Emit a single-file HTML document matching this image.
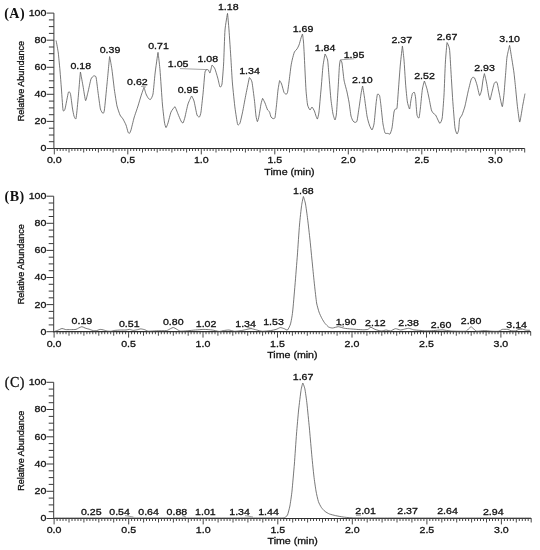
<!DOCTYPE html>
<html lang="en"><head><meta charset="utf-8"><title>Chromatograms</title>
<style>html,body{margin:0;padding:0;background:#fff}svg{display:block}</style></head>
<body>
<svg width="540" height="550" viewBox="0 0 540 550">
<rect width="540" height="550" fill="#fff"/>
<g font-family="'Liberation Sans', sans-serif" fill="#111" stroke="#111" stroke-width="0.3">
<path d="M53.4 148.5H524.7" fill="none" stroke="#2e2e2e" stroke-width="1.2"/>
<path d="M53.9 13.1V149.0M53.9 148.5h-7.2M53.9 141.7h-5.0M53.9 135.0h-5.0M53.9 128.2h-5.0M53.9 121.4h-7.2M53.9 114.7h-5.0M53.9 107.9h-5.0M53.9 101.1h-5.0M53.9 94.3h-7.2M53.9 87.6h-5.0M53.9 80.8h-5.0M53.9 74.0h-5.0M53.9 67.3h-7.2M53.9 60.5h-5.0M53.9 53.7h-5.0M53.9 47.0h-5.0M53.9 40.2h-7.2M53.9 33.4h-5.0M53.9 26.6h-5.0M53.9 19.9h-5.0M53.9 13.1h-7.2" fill="none" stroke="#3a3a3a" stroke-width="1"/>
<path d="M54.3 148.5v5.9M57.2 148.5v2.5M60.2 148.5v2.5M63.1 148.5v2.5M66.1 148.5v2.5M69.0 148.5v4.0M71.9 148.5v2.5M74.9 148.5v2.5M77.8 148.5v2.5M80.8 148.5v2.5M83.7 148.5v4.0M86.6 148.5v2.5M89.6 148.5v2.5M92.5 148.5v2.5M95.5 148.5v2.5M98.4 148.5v4.0M101.3 148.5v2.5M104.3 148.5v2.5M107.2 148.5v2.5M110.2 148.5v2.5M113.1 148.5v4.0M116.0 148.5v2.5M119.0 148.5v2.5M121.9 148.5v2.5M124.9 148.5v2.5M127.8 148.5v5.9M130.7 148.5v2.5M133.7 148.5v2.5M136.6 148.5v2.5M139.6 148.5v2.5M142.5 148.5v4.0M145.4 148.5v2.5M148.4 148.5v2.5M151.3 148.5v2.5M154.3 148.5v2.5M157.2 148.5v4.0M160.1 148.5v2.5M163.1 148.5v2.5M166.0 148.5v2.5M169.0 148.5v2.5M171.9 148.5v4.0M174.8 148.5v2.5M177.8 148.5v2.5M180.7 148.5v2.5M183.7 148.5v2.5M186.6 148.5v4.0M189.5 148.5v2.5M192.5 148.5v2.5M195.4 148.5v2.5M198.4 148.5v2.5M201.3 148.5v5.9M204.2 148.5v2.5M207.2 148.5v2.5M210.1 148.5v2.5M213.1 148.5v2.5M216.0 148.5v4.0M218.9 148.5v2.5M221.9 148.5v2.5M224.8 148.5v2.5M227.8 148.5v2.5M230.7 148.5v4.0M233.6 148.5v2.5M236.6 148.5v2.5M239.5 148.5v2.5M242.5 148.5v2.5M245.4 148.5v4.0M248.3 148.5v2.5M251.3 148.5v2.5M254.2 148.5v2.5M257.2 148.5v2.5M260.1 148.5v4.0M263.0 148.5v2.5M266.0 148.5v2.5M268.9 148.5v2.5M271.9 148.5v2.5M274.8 148.5v5.9M277.7 148.5v2.5M280.7 148.5v2.5M283.6 148.5v2.5M286.6 148.5v2.5M289.5 148.5v4.0M292.4 148.5v2.5M295.4 148.5v2.5M298.3 148.5v2.5M301.3 148.5v2.5M304.2 148.5v4.0M307.1 148.5v2.5M310.1 148.5v2.5M313.0 148.5v2.5M316.0 148.5v2.5M318.9 148.5v4.0M321.8 148.5v2.5M324.8 148.5v2.5M327.7 148.5v2.5M330.7 148.5v2.5M333.6 148.5v4.0M336.5 148.5v2.5M339.5 148.5v2.5M342.4 148.5v2.5M345.4 148.5v2.5M348.3 148.5v5.9M351.2 148.5v2.5M354.2 148.5v2.5M357.1 148.5v2.5M360.1 148.5v2.5M363.0 148.5v4.0M365.9 148.5v2.5M368.9 148.5v2.5M371.8 148.5v2.5M374.8 148.5v2.5M377.7 148.5v4.0M380.6 148.5v2.5M383.6 148.5v2.5M386.5 148.5v2.5M389.5 148.5v2.5M392.4 148.5v4.0M395.3 148.5v2.5M398.3 148.5v2.5M401.2 148.5v2.5M404.2 148.5v2.5M407.1 148.5v4.0M410.0 148.5v2.5M413.0 148.5v2.5M415.9 148.5v2.5M418.9 148.5v2.5M421.8 148.5v5.9M424.7 148.5v2.5M427.7 148.5v2.5M430.6 148.5v2.5M433.6 148.5v2.5M436.5 148.5v4.0M439.4 148.5v2.5M442.4 148.5v2.5M445.3 148.5v2.5M448.3 148.5v2.5M451.2 148.5v4.0M454.1 148.5v2.5M457.1 148.5v2.5M460.0 148.5v2.5M463.0 148.5v2.5M465.9 148.5v4.0M468.8 148.5v2.5M471.8 148.5v2.5M474.7 148.5v2.5M477.7 148.5v2.5M480.6 148.5v4.0M483.5 148.5v2.5M486.5 148.5v2.5M489.4 148.5v2.5M492.4 148.5v2.5M495.3 148.5v5.9M498.2 148.5v2.5M501.2 148.5v2.5M504.1 148.5v2.5M507.1 148.5v2.5M510.0 148.5v4.0M512.9 148.5v2.5M515.9 148.5v2.5M518.8 148.5v2.5M521.8 148.5v2.5M524.7 148.5v4.0" fill="none" stroke="#333" stroke-width="0.9"/>
<text transform="translate(46.4 151.4) scale(1.130 1)" text-anchor="end" font-size="9.4">0</text>
<text transform="translate(46.4 124.3) scale(1.130 1)" text-anchor="end" font-size="9.4">20</text>
<text transform="translate(46.4 97.2) scale(1.130 1)" text-anchor="end" font-size="9.4">40</text>
<text transform="translate(46.4 70.2) scale(1.130 1)" text-anchor="end" font-size="9.4">60</text>
<text transform="translate(46.4 43.1) scale(1.130 1)" text-anchor="end" font-size="9.4">80</text>
<text transform="translate(46.4 16.0) scale(1.130 1)" text-anchor="end" font-size="9.4">100</text>
<text transform="translate(54.3 163.4) scale(1.130 1)" text-anchor="middle" font-size="9.4">0.0</text>
<text transform="translate(127.8 163.4) scale(1.130 1)" text-anchor="middle" font-size="9.4">0.5</text>
<text transform="translate(201.3 163.4) scale(1.130 1)" text-anchor="middle" font-size="9.4">1.0</text>
<text transform="translate(274.8 163.4) scale(1.130 1)" text-anchor="middle" font-size="9.4">1.5</text>
<text transform="translate(348.3 163.4) scale(1.130 1)" text-anchor="middle" font-size="9.4">2.0</text>
<text transform="translate(421.8 163.4) scale(1.130 1)" text-anchor="middle" font-size="9.4">2.5</text>
<text transform="translate(495.3 163.4) scale(1.130 1)" text-anchor="middle" font-size="9.4">3.0</text>
<text transform="translate(289.5 174.8) scale(1.130 1)" text-anchor="middle" font-size="9.4">Time (min)</text>
<text transform="translate(24.2 81.1) rotate(-90) scale(0.93 1)" text-anchor="middle" font-size="9.8" letter-spacing="-0.05">Relative Abundance</text>
<path d="M56.1 40.5C56.3 41.6 58.0 50.5 58.3 53.0C58.6 55.5 59.5 65.5 59.8 68.5C60.1 71.5 60.9 82.3 61.2 86.0C61.5 89.7 62.7 107.9 63.0 110.0C63.3 112.1 64.5 110.6 65.0 109.0C65.5 107.4 67.9 93.8 68.4 92.4C68.9 91.0 70.0 92.2 70.4 93.6C70.8 95.0 72.1 106.0 72.4 108.0C72.7 110.0 73.7 115.0 74.0 116.0C74.3 117.0 75.6 120.0 76.0 118.6C76.4 117.2 77.6 104.2 78.0 100.0C78.4 95.8 80.3 72.4 80.4 72.0C80.5 71.6 82.5 83.4 83.0 86.0C83.5 88.6 85.1 100.1 85.6 100.6C86.0 101.1 87.5 93.9 88.0 92.0C88.5 90.1 90.5 80.4 91.0 79.0C91.5 77.6 93.1 76.2 93.6 76.0C94.0 75.8 95.6 75.6 96.0 77.0C96.4 78.4 97.6 89.1 98.0 92.0C98.4 94.9 100.0 107.1 100.4 109.0C100.9 110.9 102.6 113.3 103.0 113.4C103.4 113.5 104.0 112.6 104.4 110.0C104.8 107.4 106.5 88.8 107.0 84.0C107.5 79.2 109.5 57.0 109.6 56.6C109.7 56.2 111.6 67.0 112.0 70.0C112.4 73.0 114.0 86.8 114.4 90.0C114.9 93.2 116.5 103.8 117.0 106.0C117.5 108.2 119.5 113.8 120.0 115.0C120.5 116.2 122.5 118.1 123.0 119.0C123.5 119.9 125.5 123.8 126.0 125.0C126.5 126.2 127.7 131.2 128.0 132.0C128.3 132.8 129.1 133.6 129.4 133.4C129.7 133.2 130.6 131.4 131.0 130.0C131.4 128.6 133.4 120.2 134.0 118.0C134.6 115.8 137.4 108.0 138.0 106.0C138.6 104.0 140.5 97.7 141.0 96.0C141.5 94.3 143.9 87.5 144.0 87.4C144.1 87.3 145.6 93.0 146.0 94.0C146.4 95.0 148.0 97.9 148.4 98.4C148.8 98.9 150.2 99.8 150.6 99.4C151.0 99.0 152.6 96.3 153.0 94.0C153.4 91.7 154.6 77.7 155.0 74.0C155.4 70.3 157.9 52.5 158.0 52.4C158.1 52.3 159.6 65.4 160.0 70.0C160.4 74.6 162.0 99.3 162.4 104.0C162.8 108.7 164.1 119.9 164.4 122.0C164.7 124.1 165.7 127.5 166.0 127.6C166.3 127.7 167.6 124.4 168.0 123.0C168.4 121.6 170.4 113.5 171.0 112.0C171.6 110.5 174.8 106.5 175.0 106.6C175.2 106.7 177.5 112.7 178.0 114.0C178.5 115.3 180.6 120.2 181.0 121.0C181.4 121.8 182.6 123.4 183.0 123.0C183.4 122.6 184.6 118.7 185.0 117.0C185.4 115.3 187.4 105.9 188.0 104.0C188.6 102.1 191.4 96.1 191.6 96.0C191.8 95.9 193.5 99.3 194.0 101.0C194.5 102.7 196.5 113.6 197.0 115.0C197.5 116.4 199.0 117.3 199.4 117.0C199.8 116.7 200.7 114.1 201.0 112.0C201.3 109.9 202.6 97.6 203.0 94.0C203.4 90.4 204.6 74.2 205.0 72.0C205.4 69.8 206.7 69.8 207.0 69.6C207.3 69.4 208.1 69.7 208.4 70.0C208.7 70.3 209.7 73.5 210.0 73.0C210.3 72.5 211.9 65.1 212.0 65.0C212.1 64.9 214.5 67.7 215.0 69.0C215.5 70.3 217.6 77.4 218.0 79.0C218.4 80.6 219.6 86.5 220.0 87.0C220.4 87.5 221.7 86.1 222.0 84.0C222.3 81.9 223.3 68.9 223.6 64.0C223.9 59.1 224.6 34.6 225.0 30.0C225.4 25.4 227.4 13.4 227.5 13.4C227.6 13.4 228.7 25.8 229.0 30.0C229.3 34.2 230.7 55.1 231.0 60.0C231.3 64.9 232.1 79.7 232.5 84.0C232.9 88.3 234.5 104.4 235.0 108.0C235.5 111.6 237.2 123.1 237.6 124.4C238.0 125.8 239.5 124.3 240.0 123.0C240.5 121.7 242.5 112.6 243.0 110.0C243.5 107.4 245.4 96.9 246.0 94.0C246.6 91.1 249.2 77.9 249.4 77.6C249.6 77.3 251.6 80.0 252.0 82.0C252.4 84.0 254.0 96.9 254.4 100.0C254.8 103.1 255.7 114.1 256.0 116.0C256.3 117.9 257.1 121.6 257.4 121.6C257.7 121.6 258.7 117.6 259.0 116.0C259.3 114.4 260.7 105.6 261.0 104.0C261.3 102.4 262.5 98.4 262.6 98.4C262.7 98.4 264.6 102.0 265.0 103.0C265.4 104.0 267.2 109.2 267.6 110.0C268.0 110.8 269.1 111.0 269.4 111.6C269.7 112.2 270.7 116.4 271.0 117.0C271.3 117.6 272.6 118.5 273.0 118.6C273.4 118.7 274.7 118.7 275.0 117.6C275.3 116.5 276.1 108.5 276.4 106.0C276.7 103.5 277.7 92.3 278.0 90.0C278.3 87.7 279.5 80.8 279.6 80.6C279.7 80.4 281.2 82.9 281.6 84.0C282.0 85.1 283.6 91.5 284.0 92.4C284.4 93.3 285.3 93.9 285.6 94.0C285.9 94.1 287.1 94.1 287.4 93.0C287.7 91.9 288.7 84.4 289.0 82.0C289.3 79.6 290.7 68.1 291.0 66.0C291.3 63.9 292.1 60.3 292.4 59.0C292.7 57.7 294.0 52.9 294.4 52.0C294.8 51.1 296.6 49.6 297.0 49.0C297.4 48.4 298.6 46.0 299.0 45.0C299.4 44.0 300.7 39.0 301.0 38.0C301.3 37.0 302.4 33.9 302.5 34.0C302.6 34.1 303.3 39.8 303.5 42.0C303.7 44.2 304.2 53.7 304.4 58.0C304.6 62.3 305.7 85.8 306.0 90.0C306.3 94.2 307.2 103.2 307.6 105.0C308.0 106.8 309.6 109.8 310.0 110.0C310.4 110.2 311.6 106.9 312.0 107.0C312.4 107.1 314.0 110.2 314.4 111.0C314.8 111.8 315.7 115.3 316.0 116.0C316.3 116.7 317.1 119.4 317.4 119.0C317.7 118.6 318.7 114.6 319.0 112.0C319.3 109.4 320.6 94.1 321.0 90.0C321.4 85.9 322.6 69.2 323.0 66.0C323.4 62.8 324.9 54.2 325.0 54.0C325.1 53.8 327.2 58.0 327.6 60.0C328.0 62.0 328.7 72.4 329.0 76.0C329.3 79.6 330.6 96.6 331.0 100.0C331.4 103.4 332.6 112.2 333.0 114.0C333.4 115.8 334.7 120.0 335.0 120.0C335.3 120.0 336.1 116.7 336.4 114.0C336.7 111.3 337.7 94.3 338.0 90.0C338.3 85.7 339.2 68.7 339.4 66.0C339.6 63.3 340.2 60.3 340.4 60.0C340.6 59.7 341.7 61.2 342.0 63.0C342.3 64.8 343.6 77.4 344.0 80.0C344.4 82.6 346.6 90.0 347.0 92.0C347.4 94.0 348.6 99.8 349.0 102.0C349.4 104.2 350.6 114.3 351.0 116.0C351.4 117.7 352.6 120.4 353.0 121.0C353.4 121.6 354.6 122.4 355.0 122.4C355.4 122.4 356.6 122.3 357.0 121.0C357.4 119.7 358.6 110.4 359.0 108.0C359.4 105.6 360.7 96.0 361.0 94.0C361.3 92.0 362.5 85.9 362.6 86.0C362.7 86.1 364.0 94.3 364.4 97.0C364.8 99.7 366.6 113.5 367.0 116.0C367.4 118.5 368.9 123.7 369.4 125.0C369.8 126.3 371.6 130.1 372.0 130.0C372.4 129.9 373.6 126.3 374.0 124.0C374.4 121.7 375.7 106.7 376.0 104.0C376.3 101.3 377.1 95.2 377.4 94.4C377.7 93.6 379.3 94.6 379.6 95.6C379.9 96.6 380.7 103.4 381.0 106.0C381.3 108.6 382.6 121.6 383.0 124.0C383.4 126.4 384.6 132.2 385.0 133.0C385.4 133.8 387.6 133.3 388.0 133.4C388.4 133.5 389.6 134.5 390.0 134.0C390.4 133.5 391.6 130.0 392.0 128.0C392.4 126.0 393.7 113.7 394.0 112.0C394.3 110.3 395.1 109.4 395.4 109.0C395.7 108.6 396.7 109.7 397.0 108.0C397.3 106.3 398.1 94.0 398.4 90.0C398.7 86.0 400.0 68.0 400.4 64.0C400.8 60.0 402.3 46.1 402.4 46.0C402.5 45.9 403.7 56.6 404.0 60.0C404.3 63.4 405.3 80.2 405.6 84.0C405.9 87.8 407.0 99.8 407.4 102.0C407.8 104.2 409.3 109.2 409.6 109.0C409.9 108.8 410.7 101.4 411.0 100.0C411.3 98.6 412.1 94.3 412.4 93.6C412.7 92.9 414.1 92.0 414.4 92.4C414.7 92.8 415.4 96.0 415.6 98.0C415.8 100.0 416.7 113.2 417.0 115.0C417.3 116.8 418.7 118.6 419.0 118.0C419.3 117.4 420.1 110.6 420.4 108.0C420.7 105.4 422.0 91.4 422.4 89.0C422.8 86.6 424.3 81.0 424.4 81.0C424.5 81.0 426.6 87.5 427.0 89.0C427.4 90.5 428.6 96.1 429.0 98.0C429.4 99.9 431.0 108.6 431.4 110.0C431.8 111.4 433.2 113.1 433.6 113.6C434.0 114.0 435.2 114.4 435.6 115.0C436.0 115.6 437.6 119.2 438.0 120.0C438.4 120.8 439.6 123.6 440.0 123.4C440.4 123.2 441.8 120.6 442.2 118.0C442.6 115.4 443.7 100.0 444.0 95.0C444.3 90.0 445.1 66.7 445.4 62.0C445.7 57.3 446.9 43.0 447.0 42.6C447.1 42.2 449.1 46.4 449.5 49.0C449.9 51.6 450.7 67.0 451.0 72.0C451.3 77.0 452.6 99.0 453.0 104.0C453.4 109.0 454.6 125.3 455.0 128.0C455.4 130.7 456.7 133.8 457.0 134.0C457.3 134.2 458.4 131.3 458.6 130.0C458.8 128.7 459.3 120.3 459.6 119.0C459.9 117.7 461.5 116.2 462.0 115.0C462.5 113.8 464.5 108.1 465.0 106.0C465.5 103.9 467.5 94.3 468.0 92.0C468.5 89.7 470.6 81.3 471.0 80.0C471.4 78.7 472.3 77.6 472.6 77.4C472.9 77.2 474.2 77.3 474.6 78.0C475.0 78.7 476.6 83.4 477.0 85.0C477.4 86.6 479.2 95.1 479.6 95.6C480.0 96.0 481.3 91.4 481.6 90.0C481.9 88.6 482.7 81.5 483.0 80.0C483.3 78.5 484.3 73.5 484.4 73.6C484.5 73.7 486.0 80.1 486.4 82.0C486.8 83.9 488.3 93.4 488.6 95.0C488.9 96.6 489.7 100.3 490.0 100.0C490.3 99.7 491.6 93.5 492.0 92.0C492.4 90.5 493.9 83.9 494.4 83.0C494.8 82.1 496.6 81.6 497.0 82.4C497.4 83.2 498.6 90.2 499.0 92.0C499.4 93.8 500.7 100.7 501.0 102.0C501.3 103.3 502.1 107.3 502.4 106.6C502.7 105.9 503.7 96.9 504.0 94.0C504.3 91.1 505.3 77.3 505.6 74.0C505.9 70.7 506.6 59.6 507.0 57.0C507.4 54.4 509.5 45.3 509.6 45.4C509.7 45.5 511.6 57.5 512.0 60.0C512.4 62.5 513.7 70.5 514.0 73.0C514.3 75.5 515.3 84.8 515.6 88.0C515.9 91.2 517.2 104.9 517.6 108.0C518.0 111.1 519.3 121.3 519.6 122.0C519.9 122.7 520.7 117.6 521.0 116.0C521.3 114.4 522.6 106.0 523.0 104.0C523.4 102.0 524.8 94.5 525.0 93.6" fill="none" stroke="#555" stroke-width="0.8" stroke-linejoin="round"/>
<text transform="translate(80.8 69.0) scale(1.130 1)" text-anchor="middle" font-size="9.4">0.18</text>
<text transform="translate(110.0 53.4) scale(1.130 1)" text-anchor="middle" font-size="9.4">0.39</text>
<text transform="translate(137.4 85.4) scale(1.130 1)" text-anchor="middle" font-size="9.4">0.62</text>
<text transform="translate(158.5 49.0) scale(1.130 1)" text-anchor="middle" font-size="9.4">0.71</text>
<text transform="translate(188.0 93.4) scale(1.130 1)" text-anchor="middle" font-size="9.4">0.95</text>
<text transform="translate(178.2 67.4) scale(1.130 1)" text-anchor="middle" font-size="9.4">1.05</text>
<text transform="translate(207.8 62.2) scale(1.130 1)" text-anchor="middle" font-size="9.4">1.08</text>
<text transform="translate(228.3 10.1) scale(1.130 1)" text-anchor="middle" font-size="9.4">1.18</text>
<text transform="translate(249.5 74.4) scale(1.130 1)" text-anchor="middle" font-size="9.4">1.34</text>
<text transform="translate(303.0 31.6) scale(1.130 1)" text-anchor="middle" font-size="9.4">1.69</text>
<text transform="translate(325.1 51.0) scale(1.130 1)" text-anchor="middle" font-size="9.4">1.84</text>
<text transform="translate(354.0 58.0) scale(1.130 1)" text-anchor="middle" font-size="9.4">1.95</text>
<text transform="translate(362.4 83.0) scale(1.130 1)" text-anchor="middle" font-size="9.4">2.10</text>
<text transform="translate(401.8 43.0) scale(1.130 1)" text-anchor="middle" font-size="9.4">2.37</text>
<text transform="translate(424.5 78.8) scale(1.130 1)" text-anchor="middle" font-size="9.4">2.52</text>
<text transform="translate(447.0 40.2) scale(1.130 1)" text-anchor="middle" font-size="9.4">2.67</text>
<text transform="translate(484.5 71.0) scale(1.130 1)" text-anchor="middle" font-size="9.4">2.93</text>
<text transform="translate(509.7 42.2) scale(1.130 1)" text-anchor="middle" font-size="9.4">3.10</text>
<path d="M180 68.6L207 69.6M340.4 59.8L354.4 58.8M141 86.4L146 87" fill="none" stroke="#666" stroke-width="0.6"/>
<path d="M53.2 331.7H530.8" fill="none" stroke="#2e2e2e" stroke-width="1.2"/>
<path d="M53.7 196.2V332.2M53.7 331.7h-7.2M53.7 324.9h-5.0M53.7 318.1h-5.0M53.7 311.4h-5.0M53.7 304.6h-7.2M53.7 297.8h-5.0M53.7 291.1h-5.0M53.7 284.3h-5.0M53.7 277.5h-7.2M53.7 270.7h-5.0M53.7 263.9h-5.0M53.7 257.2h-5.0M53.7 250.4h-7.2M53.7 243.6h-5.0M53.7 236.8h-5.0M53.7 230.1h-5.0M53.7 223.3h-7.2M53.7 216.5h-5.0M53.7 209.8h-5.0M53.7 203.0h-5.0M53.7 196.2h-7.2" fill="none" stroke="#3a3a3a" stroke-width="1"/>
<path d="M54.1 331.7v5.9M57.1 331.7v2.5M60.1 331.7v2.5M63.0 331.7v2.5M66.0 331.7v2.5M69.0 331.7v4.0M72.0 331.7v2.5M75.0 331.7v2.5M77.9 331.7v2.5M80.9 331.7v2.5M83.9 331.7v4.0M86.9 331.7v2.5M89.8 331.7v2.5M92.8 331.7v2.5M95.8 331.7v2.5M98.8 331.7v4.0M101.8 331.7v2.5M104.7 331.7v2.5M107.7 331.7v2.5M110.7 331.7v2.5M113.7 331.7v4.0M116.7 331.7v2.5M119.6 331.7v2.5M122.6 331.7v2.5M125.6 331.7v2.5M128.6 331.7v5.9M131.6 331.7v2.5M134.5 331.7v2.5M137.5 331.7v2.5M140.5 331.7v2.5M143.5 331.7v4.0M146.4 331.7v2.5M149.4 331.7v2.5M152.4 331.7v2.5M155.4 331.7v2.5M158.4 331.7v4.0M161.3 331.7v2.5M164.3 331.7v2.5M167.3 331.7v2.5M170.3 331.7v2.5M173.3 331.7v4.0M176.2 331.7v2.5M179.2 331.7v2.5M182.2 331.7v2.5M185.2 331.7v2.5M188.2 331.7v4.0M191.1 331.7v2.5M194.1 331.7v2.5M197.1 331.7v2.5M200.1 331.7v2.5M203.0 331.7v5.9M206.0 331.7v2.5M209.0 331.7v2.5M212.0 331.7v2.5M215.0 331.7v2.5M217.9 331.7v4.0M220.9 331.7v2.5M223.9 331.7v2.5M226.9 331.7v2.5M229.9 331.7v2.5M232.8 331.7v4.0M235.8 331.7v2.5M238.8 331.7v2.5M241.8 331.7v2.5M244.8 331.7v2.5M247.7 331.7v4.0M250.7 331.7v2.5M253.7 331.7v2.5M256.7 331.7v2.5M259.7 331.7v2.5M262.6 331.7v4.0M265.6 331.7v2.5M268.6 331.7v2.5M271.6 331.7v2.5M274.5 331.7v2.5M277.5 331.7v5.9M280.5 331.7v2.5M283.5 331.7v2.5M286.5 331.7v2.5M289.4 331.7v2.5M292.4 331.7v4.0M295.4 331.7v2.5M298.4 331.7v2.5M301.4 331.7v2.5M304.3 331.7v2.5M307.3 331.7v4.0M310.3 331.7v2.5M313.3 331.7v2.5M316.3 331.7v2.5M319.2 331.7v2.5M322.2 331.7v4.0M325.2 331.7v2.5M328.2 331.7v2.5M331.1 331.7v2.5M334.1 331.7v2.5M337.1 331.7v4.0M340.1 331.7v2.5M343.1 331.7v2.5M346.0 331.7v2.5M349.0 331.7v2.5M352.0 331.7v5.9M355.0 331.7v2.5M358.0 331.7v2.5M360.9 331.7v2.5M363.9 331.7v2.5M366.9 331.7v4.0M369.9 331.7v2.5M372.9 331.7v2.5M375.8 331.7v2.5M378.8 331.7v2.5M381.8 331.7v4.0M384.8 331.7v2.5M387.7 331.7v2.5M390.7 331.7v2.5M393.7 331.7v2.5M396.7 331.7v4.0M399.7 331.7v2.5M402.6 331.7v2.5M405.6 331.7v2.5M408.6 331.7v2.5M411.6 331.7v4.0M414.6 331.7v2.5M417.5 331.7v2.5M420.5 331.7v2.5M423.5 331.7v2.5M426.5 331.7v5.9M429.5 331.7v2.5M432.4 331.7v2.5M435.4 331.7v2.5M438.4 331.7v2.5M441.4 331.7v4.0M444.3 331.7v2.5M447.3 331.7v2.5M450.3 331.7v2.5M453.3 331.7v2.5M456.3 331.7v4.0M459.2 331.7v2.5M462.2 331.7v2.5M465.2 331.7v2.5M468.2 331.7v2.5M471.2 331.7v4.0M474.1 331.7v2.5M477.1 331.7v2.5M480.1 331.7v2.5M483.1 331.7v2.5M486.1 331.7v4.0M489.0 331.7v2.5M492.0 331.7v2.5M495.0 331.7v2.5M498.0 331.7v2.5M500.9 331.7v5.9M503.9 331.7v2.5M506.9 331.7v2.5M509.9 331.7v2.5M512.9 331.7v2.5M515.8 331.7v4.0M518.8 331.7v2.5M521.8 331.7v2.5M524.8 331.7v2.5M527.8 331.7v2.5M530.7 331.7v4.0" fill="none" stroke="#333" stroke-width="0.9"/>
<text transform="translate(46.4 334.6) scale(1.130 1)" text-anchor="end" font-size="9.4">0</text>
<text transform="translate(46.4 307.5) scale(1.130 1)" text-anchor="end" font-size="9.4">20</text>
<text transform="translate(46.4 280.4) scale(1.130 1)" text-anchor="end" font-size="9.4">40</text>
<text transform="translate(46.4 253.3) scale(1.130 1)" text-anchor="end" font-size="9.4">60</text>
<text transform="translate(46.4 226.2) scale(1.130 1)" text-anchor="end" font-size="9.4">80</text>
<text transform="translate(46.4 199.1) scale(1.130 1)" text-anchor="end" font-size="9.4">100</text>
<text transform="translate(54.1 346.6) scale(1.130 1)" text-anchor="middle" font-size="9.4">0.0</text>
<text transform="translate(128.6 346.6) scale(1.130 1)" text-anchor="middle" font-size="9.4">0.5</text>
<text transform="translate(203.0 346.6) scale(1.130 1)" text-anchor="middle" font-size="9.4">1.0</text>
<text transform="translate(277.5 346.6) scale(1.130 1)" text-anchor="middle" font-size="9.4">1.5</text>
<text transform="translate(352.0 346.6) scale(1.130 1)" text-anchor="middle" font-size="9.4">2.0</text>
<text transform="translate(426.5 346.6) scale(1.130 1)" text-anchor="middle" font-size="9.4">2.5</text>
<text transform="translate(500.9 346.6) scale(1.130 1)" text-anchor="middle" font-size="9.4">3.0</text>
<text transform="translate(292.4 358.0) scale(1.130 1)" text-anchor="middle" font-size="9.4">Time (min)</text>
<text transform="translate(24.2 264.2) rotate(-90) scale(0.93 1)" text-anchor="middle" font-size="9.8" letter-spacing="-0.05">Relative Abundance</text>
<path d="M54.3 331.6C54.6 331.5 56.6 330.7 57.4 330.4C58.2 330.1 61.2 328.6 62.0 328.5C62.8 328.4 64.9 329.5 65.7 329.6C66.5 329.7 69.4 329.6 70.4 329.6C71.4 329.6 75.2 329.6 76.0 329.4C76.8 329.2 78.1 328.3 78.7 328.0C79.3 327.7 81.2 326.7 81.9 326.7C82.6 326.7 84.4 327.8 85.2 328.1C86.0 328.4 89.0 329.1 89.8 329.4C90.6 329.7 92.8 330.6 93.5 330.7C94.2 330.8 95.6 330.8 96.3 330.7C97.0 330.6 99.3 329.5 100.0 329.4C100.7 329.3 103.0 329.8 103.7 330.0C104.4 330.2 106.7 331.0 107.4 331.1C108.1 331.2 110.4 331.4 111.1 331.3C111.8 331.2 113.9 330.5 114.8 330.4C115.7 330.3 119.3 330.0 120.4 330.0C121.5 330.0 125.1 330.1 126.0 330.0C126.9 329.9 128.9 329.4 129.6 329.4C130.3 329.4 132.6 330.4 133.3 330.4C134.0 330.4 136.3 329.9 137.0 329.8C137.7 329.7 140.0 328.9 140.7 328.9C141.4 328.9 143.6 329.4 144.4 329.6C145.2 329.8 147.1 331.1 148.3 331.2C149.5 331.3 154.9 330.9 156.7 330.8C158.5 330.7 165.0 330.8 166.4 330.6C167.8 330.4 169.9 328.9 170.6 328.6C171.3 328.3 172.7 327.4 173.3 327.5C173.9 327.6 176.0 328.8 176.7 329.2C177.4 329.6 179.2 330.9 180.3 331.1C181.4 331.3 185.7 330.9 187.2 330.8C188.7 330.7 193.9 330.1 195.6 330.0C197.3 329.9 202.2 329.4 203.9 329.4C205.6 329.4 210.7 329.8 212.2 330.0C213.7 330.2 218.1 331.4 219.2 331.5C220.3 331.6 222.3 330.8 223.3 330.6C224.3 330.5 227.8 329.9 228.9 330.0C230.0 330.1 233.2 331.2 234.4 331.3C235.7 331.4 240.2 330.8 241.4 330.6C242.7 330.4 245.9 329.6 246.9 329.4C247.9 329.2 250.1 328.5 251.1 328.6C252.1 328.7 255.6 329.7 256.7 330.0C257.8 330.3 260.8 331.2 262.2 331.3C263.6 331.4 269.2 330.8 270.6 330.6C272.0 330.4 275.1 329.7 276.1 329.4C277.1 329.1 279.5 327.7 280.3 327.6C281.1 327.5 283.8 328.6 284.5 328.8C285.2 329.0 286.9 330.5 287.5 330.0C288.1 329.5 290.0 325.8 290.5 324.0C291.0 322.2 292.2 315.9 292.6 312.0C293.1 308.1 294.5 290.7 295.0 285.0C295.5 279.3 296.9 261.0 297.4 255.0C297.8 249.0 299.1 229.9 299.5 225.0C299.9 220.1 301.2 208.3 301.6 205.5C302.0 202.7 303.3 196.5 303.4 196.5C303.5 196.5 305.1 201.8 305.5 204.0C305.9 206.2 307.2 215.4 307.6 219.0C308.1 222.6 309.5 235.5 310.0 240.0C310.5 244.5 311.9 259.5 312.4 264.0C312.8 268.5 314.1 281.1 314.5 285.0C314.9 288.9 316.2 300.3 316.6 303.0C317.1 305.7 318.5 310.4 319.0 312.0C319.5 313.6 321.4 317.5 322.0 318.6C322.6 319.7 324.3 322.6 325.0 323.4C325.7 324.2 327.9 326.5 328.6 327.0C329.4 327.5 331.5 328.0 332.5 328.0C333.5 328.0 337.1 326.7 338.3 326.7C339.5 326.7 343.2 328.1 344.4 328.3C345.6 328.5 349.4 328.8 350.6 328.9C351.8 329.0 355.4 329.3 356.7 329.4C358.0 329.5 362.7 329.8 363.8 329.8C364.9 329.8 367.2 329.6 367.9 329.4C368.6 329.1 370.2 327.3 370.9 327.3C371.6 327.3 374.0 329.0 375.0 329.4C376.0 329.8 380.0 330.9 381.1 331.0C382.2 331.1 385.3 330.0 386.2 330.0C387.1 330.0 389.4 331.1 390.3 331.0C391.2 330.9 394.4 328.8 395.4 328.7C396.4 328.6 399.7 329.9 400.5 330.0C401.3 330.1 402.7 329.6 403.5 329.4C404.3 329.2 407.6 328.3 408.6 328.3C409.6 328.3 412.6 329.6 413.7 329.8C414.8 330.0 418.6 330.3 419.8 330.4C421.0 330.5 424.5 330.8 425.9 330.8C427.2 330.8 431.7 330.7 433.3 330.6C434.9 330.5 440.4 329.9 442.2 329.9C444.0 329.9 448.8 330.9 451.1 331.0C453.4 331.1 463.9 331.4 465.6 331.2C467.3 331.0 467.8 329.4 468.4 329.0C468.9 328.6 470.6 326.8 471.1 326.8C471.6 326.8 473.2 328.6 473.8 329.0C474.4 329.4 475.6 331.0 476.7 331.2C477.8 331.4 483.0 330.6 484.4 330.6C485.8 330.6 489.7 331.1 491.1 331.2C492.6 331.3 497.8 331.4 498.9 331.2C500.0 331.0 501.3 329.6 502.2 329.4C503.1 329.2 506.9 329.3 507.8 329.4C508.7 329.5 510.3 330.7 511.1 330.8C511.9 330.9 514.8 330.9 515.6 330.8C516.4 330.7 518.2 329.6 518.9 329.4C519.6 329.2 521.5 328.9 522.2 329.0C522.9 329.1 524.8 330.0 525.6 330.1C526.4 330.2 529.6 330.3 530.0 330.3" fill="none" stroke="#555" stroke-width="0.8" stroke-linejoin="round"/>
<text transform="translate(81.9 324.2) scale(1.130 1)" text-anchor="middle" font-size="9.4">0.19</text>
<text transform="translate(129.3 326.8) scale(1.130 1)" text-anchor="middle" font-size="9.4">0.51</text>
<text transform="translate(173.3 324.8) scale(1.130 1)" text-anchor="middle" font-size="9.4">0.80</text>
<text transform="translate(206.1 326.5) scale(1.130 1)" text-anchor="middle" font-size="9.4">1.02</text>
<text transform="translate(245.6 326.5) scale(1.130 1)" text-anchor="middle" font-size="9.4">1.34</text>
<text transform="translate(273.5 325.0) scale(1.130 1)" text-anchor="middle" font-size="9.4">1.53</text>
<text transform="translate(303.4 194.2) scale(1.130 1)" text-anchor="middle" font-size="9.4">1.68</text>
<text transform="translate(346.1 324.5) scale(1.130 1)" text-anchor="middle" font-size="9.4">1.90</text>
<text transform="translate(375.4 325.7) scale(1.130 1)" text-anchor="middle" font-size="9.4">2.12</text>
<text transform="translate(408.6 325.7) scale(1.130 1)" text-anchor="middle" font-size="9.4">2.38</text>
<text transform="translate(441.1 328.0) scale(1.130 1)" text-anchor="middle" font-size="9.4">2.60</text>
<text transform="translate(471.1 324.4) scale(1.130 1)" text-anchor="middle" font-size="9.4">2.80</text>
<text transform="translate(516.7 327.5) scale(1.130 1)" text-anchor="middle" font-size="9.4">3.14</text>
<path d="M340 325.2L344 326.6M369 326.4L372 327.6M247 327.2L252 328.4M516 328.2L522 329" fill="none" stroke="#666" stroke-width="0.6"/>
<path d="M53.2 518.5H531.4" fill="none" stroke="#2e2e2e" stroke-width="1.2"/>
<path d="M53.7 382.3V519.0M53.7 518.5h-7.2M53.7 511.7h-5.0M53.7 504.9h-5.0M53.7 498.1h-5.0M53.7 491.3h-7.2M53.7 484.4h-5.0M53.7 477.6h-5.0M53.7 470.8h-5.0M53.7 464.0h-7.2M53.7 457.2h-5.0M53.7 450.4h-5.0M53.7 443.6h-5.0M53.7 436.8h-7.2M53.7 430.0h-5.0M53.7 423.2h-5.0M53.7 416.4h-5.0M53.7 409.5h-7.2M53.7 402.7h-5.0M53.7 395.9h-5.0M53.7 389.1h-5.0M53.7 382.3h-7.2" fill="none" stroke="#3a3a3a" stroke-width="1"/>
<path d="M54.1 518.5v5.9M57.1 518.5v2.5M60.1 518.5v2.5M63.0 518.5v2.5M66.0 518.5v2.5M69.0 518.5v4.0M72.0 518.5v2.5M75.0 518.5v2.5M78.0 518.5v2.5M80.9 518.5v2.5M83.9 518.5v4.0M86.9 518.5v2.5M89.9 518.5v2.5M92.9 518.5v2.5M95.8 518.5v2.5M98.8 518.5v4.0M101.8 518.5v2.5M104.8 518.5v2.5M107.8 518.5v2.5M110.8 518.5v2.5M113.7 518.5v4.0M116.7 518.5v2.5M119.7 518.5v2.5M122.7 518.5v2.5M125.7 518.5v2.5M128.7 518.5v5.9M131.6 518.5v2.5M134.6 518.5v2.5M137.6 518.5v2.5M140.6 518.5v2.5M143.6 518.5v4.0M146.5 518.5v2.5M149.5 518.5v2.5M152.5 518.5v2.5M155.5 518.5v2.5M158.5 518.5v4.0M161.5 518.5v2.5M164.4 518.5v2.5M167.4 518.5v2.5M170.4 518.5v2.5M173.4 518.5v4.0M176.4 518.5v2.5M179.3 518.5v2.5M182.3 518.5v2.5M185.3 518.5v2.5M188.3 518.5v4.0M191.3 518.5v2.5M194.3 518.5v2.5M197.2 518.5v2.5M200.2 518.5v2.5M203.2 518.5v5.9M206.2 518.5v2.5M209.2 518.5v2.5M212.1 518.5v2.5M215.1 518.5v2.5M218.1 518.5v4.0M221.1 518.5v2.5M224.1 518.5v2.5M227.1 518.5v2.5M230.0 518.5v2.5M233.0 518.5v4.0M236.0 518.5v2.5M239.0 518.5v2.5M242.0 518.5v2.5M244.9 518.5v2.5M247.9 518.5v4.0M250.9 518.5v2.5M253.9 518.5v2.5M256.9 518.5v2.5M259.9 518.5v2.5M262.8 518.5v4.0M265.8 518.5v2.5M268.8 518.5v2.5M271.8 518.5v2.5M274.8 518.5v2.5M277.8 518.5v5.9M280.7 518.5v2.5M283.7 518.5v2.5M286.7 518.5v2.5M289.7 518.5v2.5M292.7 518.5v4.0M295.6 518.5v2.5M298.6 518.5v2.5M301.6 518.5v2.5M304.6 518.5v2.5M307.6 518.5v4.0M310.6 518.5v2.5M313.5 518.5v2.5M316.5 518.5v2.5M319.5 518.5v2.5M322.5 518.5v4.0M325.5 518.5v2.5M328.4 518.5v2.5M331.4 518.5v2.5M334.4 518.5v2.5M337.4 518.5v4.0M340.4 518.5v2.5M343.4 518.5v2.5M346.3 518.5v2.5M349.3 518.5v2.5M352.3 518.5v5.9M355.3 518.5v2.5M358.3 518.5v2.5M361.2 518.5v2.5M364.2 518.5v2.5M367.2 518.5v4.0M370.2 518.5v2.5M373.2 518.5v2.5M376.2 518.5v2.5M379.1 518.5v2.5M382.1 518.5v4.0M385.1 518.5v2.5M388.1 518.5v2.5M391.1 518.5v2.5M394.0 518.5v2.5M397.0 518.5v4.0M400.0 518.5v2.5M403.0 518.5v2.5M406.0 518.5v2.5M409.0 518.5v2.5M411.9 518.5v4.0M414.9 518.5v2.5M417.9 518.5v2.5M420.9 518.5v2.5M423.9 518.5v2.5M426.9 518.5v5.9M429.8 518.5v2.5M432.8 518.5v2.5M435.8 518.5v2.5M438.8 518.5v2.5M441.8 518.5v4.0M444.7 518.5v2.5M447.7 518.5v2.5M450.7 518.5v2.5M453.7 518.5v2.5M456.7 518.5v4.0M459.7 518.5v2.5M462.6 518.5v2.5M465.6 518.5v2.5M468.6 518.5v2.5M471.6 518.5v4.0M474.6 518.5v2.5M477.5 518.5v2.5M480.5 518.5v2.5M483.5 518.5v2.5M486.5 518.5v4.0M489.5 518.5v2.5M492.5 518.5v2.5M495.4 518.5v2.5M498.4 518.5v2.5M501.4 518.5v5.9M504.4 518.5v2.5M507.4 518.5v2.5M510.3 518.5v2.5M513.3 518.5v2.5M516.3 518.5v4.0M519.3 518.5v2.5M522.3 518.5v2.5M525.3 518.5v2.5M528.2 518.5v2.5M531.2 518.5v4.0" fill="none" stroke="#333" stroke-width="0.9"/>
<text transform="translate(46.4 521.4) scale(1.130 1)" text-anchor="end" font-size="9.4">0</text>
<text transform="translate(46.4 494.2) scale(1.130 1)" text-anchor="end" font-size="9.4">20</text>
<text transform="translate(46.4 466.9) scale(1.130 1)" text-anchor="end" font-size="9.4">40</text>
<text transform="translate(46.4 439.7) scale(1.130 1)" text-anchor="end" font-size="9.4">60</text>
<text transform="translate(46.4 412.4) scale(1.130 1)" text-anchor="end" font-size="9.4">80</text>
<text transform="translate(46.4 385.2) scale(1.130 1)" text-anchor="end" font-size="9.4">100</text>
<text transform="translate(54.1 532.6) scale(1.130 1)" text-anchor="middle" font-size="9.4">0.0</text>
<text transform="translate(128.7 532.6) scale(1.130 1)" text-anchor="middle" font-size="9.4">0.5</text>
<text transform="translate(203.2 532.6) scale(1.130 1)" text-anchor="middle" font-size="9.4">1.0</text>
<text transform="translate(277.8 532.6) scale(1.130 1)" text-anchor="middle" font-size="9.4">1.5</text>
<text transform="translate(352.3 532.6) scale(1.130 1)" text-anchor="middle" font-size="9.4">2.0</text>
<text transform="translate(426.9 532.6) scale(1.130 1)" text-anchor="middle" font-size="9.4">2.5</text>
<text transform="translate(501.4 532.6) scale(1.130 1)" text-anchor="middle" font-size="9.4">3.0</text>
<text transform="translate(292.7 544.0) scale(1.130 1)" text-anchor="middle" font-size="9.4">Time (min)</text>
<text transform="translate(24.2 450.7) rotate(-90) scale(0.93 1)" text-anchor="middle" font-size="9.8" letter-spacing="-0.05">Relative Abundance</text>
<path d="M54.3 518.0C60.9 518.0 105.4 518.0 120.0 518.0C134.6 518.0 185.0 518.0 200.0 518.0C215.0 518.0 262.0 518.0 270.0 518.0C278.0 518.0 278.6 518.0 280.0 518.0C281.4 518.0 283.8 517.9 284.5 517.6C285.2 517.3 287.0 516.2 287.5 515.0C288.0 513.8 289.4 508.4 289.9 506.0C290.3 503.6 291.6 495.2 292.0 491.0C292.4 486.8 293.9 469.7 294.4 464.0C294.8 458.3 296.1 439.4 296.5 434.0C296.9 428.6 298.2 414.4 298.6 410.0C299.1 405.6 300.6 393.2 301.0 390.5C301.4 387.8 302.7 383.0 302.8 383.0C302.9 383.0 304.5 386.9 304.9 389.0C305.3 391.1 306.6 400.1 307.0 404.0C307.4 407.9 308.9 423.2 309.4 428.0C309.8 432.8 311.1 447.2 311.5 452.0C311.9 456.8 313.4 472.1 313.9 476.0C314.3 479.9 315.6 488.4 316.0 491.0C316.4 493.6 317.9 499.9 318.4 501.5C318.9 503.1 320.7 506.5 321.4 507.5C322.1 508.5 324.2 510.8 325.0 511.4C325.8 512.0 328.4 513.6 329.5 514.0C330.6 514.4 334.1 515.3 335.5 515.6C336.9 515.9 341.4 516.8 343.0 517.0C344.6 517.2 348.3 517.7 352.0 517.8C355.7 517.9 362.1 518.0 380.0 518.0C397.9 518.0 515.9 518.0 531.0 518.0" fill="none" stroke="#555" stroke-width="0.8" stroke-linejoin="round"/>
<text transform="translate(91.3 514.7) scale(1.130 1)" text-anchor="middle" font-size="9.4">0.25</text>
<text transform="translate(119.6 514.7) scale(1.130 1)" text-anchor="middle" font-size="9.4">0.54</text>
<text transform="translate(148.6 514.7) scale(1.130 1)" text-anchor="middle" font-size="9.4">0.64</text>
<text transform="translate(176.9 514.7) scale(1.130 1)" text-anchor="middle" font-size="9.4">0.88</text>
<text transform="translate(205.4 514.7) scale(1.130 1)" text-anchor="middle" font-size="9.4">1.01</text>
<text transform="translate(239.6 514.7) scale(1.130 1)" text-anchor="middle" font-size="9.4">1.34</text>
<text transform="translate(268.5 514.7) scale(1.130 1)" text-anchor="middle" font-size="9.4">1.44</text>
<text transform="translate(303.1 380.0) scale(1.130 1)" text-anchor="middle" font-size="9.4">1.67</text>
<text transform="translate(365.6 514.4) scale(1.130 1)" text-anchor="middle" font-size="9.4">2.01</text>
<text transform="translate(407.6 514.4) scale(1.130 1)" text-anchor="middle" font-size="9.4">2.37</text>
<text transform="translate(447.5 514.4) scale(1.130 1)" text-anchor="middle" font-size="9.4">2.64</text>
<text transform="translate(493.3 515.0) scale(1.130 1)" text-anchor="middle" font-size="9.4">2.94</text>
<path d="M125 515.6L133.5 517M182 515.6L186 517M245 515.6L253 517M356 515.4L361 515.2" fill="none" stroke="#666" stroke-width="0.6"/>
</g>
<g font-family="'Liberation Serif', serif" fill="#111" font-size="14">
<text x="4.2" y="17.6" font-weight="bold" letter-spacing="0.5">(A)</text>
<text x="4.6" y="200.8" font-weight="bold" letter-spacing="0.5">(B)</text>
<text x="4.8" y="386.8" letter-spacing="0.5" stroke="#111" stroke-width="0.3">(C)</text>
</g>
</svg>
</body></html>
